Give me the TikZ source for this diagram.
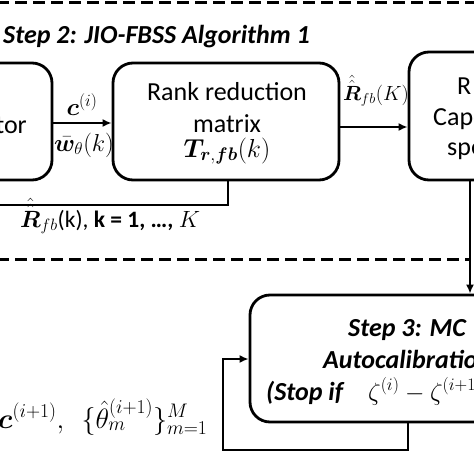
\RequirePackage{fix-cm}
\documentclass[tikz,border=0pt]{standalone}
\usepackage{amsmath,bm}
\usepackage{fontspec}
\setmainfont{Carlito}
\usetikzlibrary{arrows.meta}
\begin{document}
\begin{tikzpicture}[x=1pt,y=-1pt,
  blk/.style={draw,line width=2.8pt,rounded corners=20pt,rectangle,inner sep=0pt},
  txt/.style={inner sep=0pt,anchor=base,font=\fontsize{26}{30}\selectfont},
  ttl/.style={inner sep=0pt,anchor=base west,font=\fontsize{26}{30}\selectfont\bfseries\itshape},
  lbl/.style={inner sep=0pt,anchor=base,font=\fontsize{24.5}{28}\selectfont},
  arr/.style={line width=2pt,-{Latex[length=9pt,width=8pt]}},
  ln/.style={line width=2pt},
  dsh/.style={line width=3pt,dash pattern=on 12pt off 6pt}]
\useasboundingbox (0,0) rectangle (474,474);
\clip (0,0) rectangle (474,474);
\fill[white] (0,0) rectangle (474,474);
% dashed separators
\coordinate (d1a) at (-3,2);
\coordinate (d1b) at (480,2);
\coordinate (d2a) at (-3,259);
\coordinate (d2b) at (470,259);
\draw[dsh] (d1a) -- (d1b);
\draw[dsh] (d2a) -- (d2b);
% title
\node[ttl] (title) at (3,43) {Step 2: JIO-FBSS Algorithm 1};
% boxes
\node[blk,minimum width=152pt,minimum height=117pt] (b1) at (-24,121.5) {};
\node[blk,minimum width=226pt,minimum height=117pt] (b2) at (226,121.5) {};
\node[blk,minimum width=152pt,minimum height=128pt] (b3) at (485,116) {};
\node[blk,minimum width=350pt,minimum height=127pt] (b4) at (425,358.5) {};
% box texts
\node[txt,anchor=base east] (t1) at (27,133) {tor};
\node[txt] (t2a) at (227,100) {Rank reduction};
\node[txt] (t2b) at (227,132) {matrix};
\node[inner sep=0pt,anchor=base,font=\fontsize{26}{30}\selectfont] (t2c) at (227,157) {$\boldsymbol{T}_{\boldsymbol{r},\boldsymbol{fb}}(k)$};
\node[txt,anchor=base west] (t3a) at (457,94) {R};
\node[txt,anchor=base west] (t3b) at (433,125) {Capon};
\node[txt,anchor=base west] (t3c) at (447,155) {spectrum};
\node[ttl] (t4a) at (348,336) {Step 3: MC};
\node[ttl] (t4b) at (323,368) {Autocalibration};
\node[ttl] (t4c) at (266,400) {(Stop if};
\node[inner sep=0pt,anchor=base west,font=\fontsize{25}{28}\selectfont] (t4d) at (368,400) {$\zeta^{(i)}-\zeta^{(i+1)}$};
% connectors
\draw[arr] (b1.east |- 0,123) -- (b2.west |- 0,123);
\node[lbl] (lc) at (82,115) {$\boldsymbol{c}^{(i)}$};
\node[lbl] (lw) at (84,151) {$\bar{\boldsymbol{w}}_{\theta}(k)$};
\draw[arr] (b2.east |- 0,127) -- (b3.west |- 0,127);
\node[inner sep=0pt,anchor=base,font=\fontsize{20.5}{24}\selectfont] (lr) at (376,100) {$\hat{\hat{\boldsymbol{R}}}_{fb}(K)$};
\coordinate (fb1) at (-5,205);
\draw[ln] (b2.south -| 228,0) -- (228,205) -- (fb1);
\node[inner sep=0pt,anchor=base west,font=\fontsize{23.5}{26}\selectfont] (lk) at (20,227) {$\hat{\hat{\boldsymbol{R}}}_{fb}$(k), \textbf{k = 1, …,} $K$};
\draw[arr] (b3.south -| 470,0) -- (b4.north -| 470,0);
\draw[arr] (b4.south -| 408,0) -- (408,450) -- (223,450) -- (223,359) -- (b4.west |- 0,359);
\node[inner sep=0pt,anchor=base west,font=\fontsize{28}{32}\selectfont] (lt) at (-2,428) {$\boldsymbol{c}^{(i+1)},\ \ \{\hat{\theta}_m^{(i+1)}\}_{m=1}^{M}$};
\end{tikzpicture}
\end{document}
